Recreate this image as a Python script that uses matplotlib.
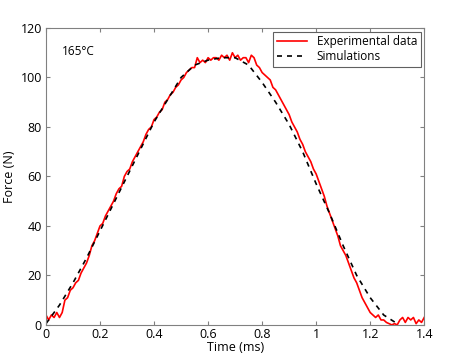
import numpy as np
import matplotlib.pyplot as plt

# time axis (ms)
t_exp = np.round(np.arange(0, 1.401, 0.01), 2)
f_exp = [4, 2, 4, 3, 5, 3, 5, 10, 11, 14,
         15, 17, 18, 21, 23, 25, 28, 32, 34, 37,
         40, 41, 44, 46, 48, 50, 53, 55, 56, 60,
         62, 63, 66, 68, 70, 72, 74, 77, 79, 80,
         83, 84, 86, 87, 90, 91, 93, 94, 96, 97,
         99, 100, 102, 103, 104, 104, 108, 106, 107, 106,
         108, 107, 108, 108, 107, 109, 108, 109, 107, 110,
         108, 109, 107, 108, 108, 106, 109, 108, 105, 104,
         102, 101, 100, 99, 96, 95, 93, 91, 89, 87,
         85, 82, 80, 78, 75, 73, 70, 68, 66, 63,
         61, 58, 55, 52, 48, 45, 42, 39, 36, 32,
         30, 28, 25, 22, 19, 17, 14, 11, 9, 7,
         5, 4, 3, 4, 2, 2, 1, 0.5, 0, 0.5,
         0, 2, 3, 1, 3, 2, 3, 0.5, 2, 1, 3]

t_sim = [0, 0.05, 0.1, 0.15, 0.2, 0.25, 0.3, 0.35, 0.4, 0.45, 0.5, 0.55, 0.6,
         0.65, 0.7, 0.75, 0.8, 0.85, 0.9, 0.95, 1.0, 1.05, 1.1, 1.15, 1.2,
         1.25, 1.3]
f_sim = [0.5, 8, 17, 27, 38, 49, 60, 71, 82, 91, 100, 105, 107,
         108, 108, 105, 98, 90, 81, 70, 57, 45, 32, 20, 11,
         4, 0.5]

plt.rcParams['font.family'] = ['Open Sans', 'DejaVu Sans']
plt.rcParams['font.size'] = 9

fig = plt.figure(figsize=(4.74, 3.59), dpi=100)
ax = fig.add_axes([0.097, 0.095, 0.798, 0.827])

ax.plot(t_exp, f_exp, '-', color='red', lw=1.2, label='Experimental data')
ax.plot(t_sim, f_sim, '--', color='black', lw=1.2, dashes=(3, 3),
        label='Simulations')

ax.set_xlim(0, 1.4)
ax.set_ylim(0, 120)
ax.set_xticks(np.arange(0, 1.41, 0.2))
ax.set_xticklabels(['0', '0.2', '0.4', '0.6', '0.8', '1', '1.2', '1.4'])
ax.set_yticks(range(0, 121, 20))
ax.tick_params(direction='in', top=True, right=True, length=3,
               color='#808080')
ax.tick_params(axis='x', pad=2)
ax.tick_params(axis='y', pad=3)
for s in ax.spines.values():
    s.set_color('#808080')

ax.set_xlabel('Time (ms)', labelpad=0)
ax.set_ylabel('Force (N)', labelpad=3)
ax.text(0.06, 110.5, '165°C', va='center', ha='left', fontsize=8.5)

leg = ax.legend(loc='upper right', fancybox=False, framealpha=1,
                edgecolor='#606060', borderaxespad=0.3, handlelength=2.6,
                borderpad=0.3, labelspacing=0.2, fontsize=8.5)
leg.get_frame().set_linewidth(0.8)

fig.savefig('out.png', dpi=100)
